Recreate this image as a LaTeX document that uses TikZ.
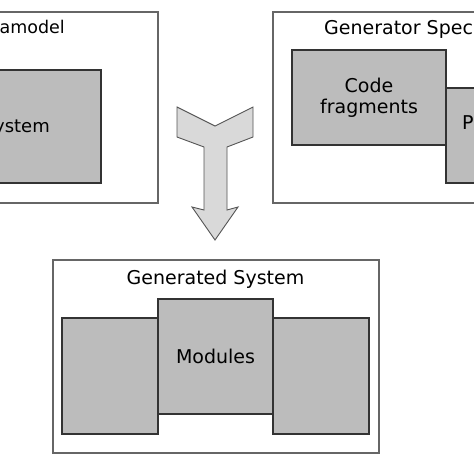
\documentclass[tikz,border=0pt]{standalone}
\usepackage{fontspec}
\setmainfont{DejaVu Sans}
\definecolor{outerline}{HTML}{666666}
\definecolor{innerline}{HTML}{333333}
\definecolor{boxfill}{HTML}{BCBCBC}
\definecolor{arrowfill}{HTML}{D9D9D9}
\definecolor{arrowline}{HTML}{555555}
\begin{document}
\begin{tikzpicture}[x=1pt,y=-1pt,
  outerbox/.style={draw=outerline, fill=white, line width=1.3pt, anchor=north west, inner sep=0pt, outer sep=0pt},
  innerbox/.style={draw=innerline, fill=boxfill, line width=1.3pt, anchor=north west, inner sep=0pt, outer sep=0pt},
  label/.style={font=\fontsize{19}{21}\selectfont, inner sep=0pt, text=black},
]
\useasboundingbox (0,0) rectangle (474,474);
\clip (0,0) rectangle (474,474);
\fill[white] (0,0) rectangle (474,474);
% top-left box
\node[outerbox, minimum width=198pt, minimum height=191pt] (meta) at (-40,12) {};
\node[label, font=\fontsize{17.5}{21}\selectfont, anchor=base east] (metat) at (65,33.5) {Metamodel};
\node[innerbox, minimum width=160pt, minimum height=113pt] (sys) at (-59,70) {};
\node[label, font=\fontsize{18}{21}\selectfont, anchor=base east] (syst) at (50,132) {System};
% top-right box
\node[outerbox, minimum width=230pt, minimum height=191pt] (gen) at (273,12) {};
\node[label, anchor=base west] (gent) at (324,34) {Generator Specification};
\node[innerbox, minimum width=80pt, minimum height=95pt] (pbox) at (446,88) {};
\node[label, anchor=base west] (pt) at (462,129) {P};
\node[innerbox, minimum width=154pt, minimum height=95pt] (code) at (292,50) {};
\node[label, align=center, anchor=base] (codet) at (369,113) {Code\\fragments};
% arrow
\draw[draw=arrowline, fill=arrowfill, line width=0.9pt, line join=miter]
  (177,107) -- (215,126) -- (253,107) -- (253,137) -- (227,147) -- (227,210)
  -- (238,207) -- (215,240) -- (192,207) -- (204,210) -- (204,147) -- (177,137) -- cycle;
% bottom box
\node[outerbox, minimum width=326pt, minimum height=193pt] (gsys) at (53,260) {};
\node[label, anchor=base] (gsyst) at (215.5,284) {Generated System};
\node[innerbox, minimum width=96pt, minimum height=116pt] (lmod) at (62,318) {};
\node[innerbox, minimum width=96pt, minimum height=116pt] (rmod) at (273,318) {};
\node[innerbox, minimum width=115pt, minimum height=115pt] (mod) at (158,299) {};
\node[label, anchor=base] (modt) at (215.5,363) {Modules};
\end{tikzpicture}
\end{document}
